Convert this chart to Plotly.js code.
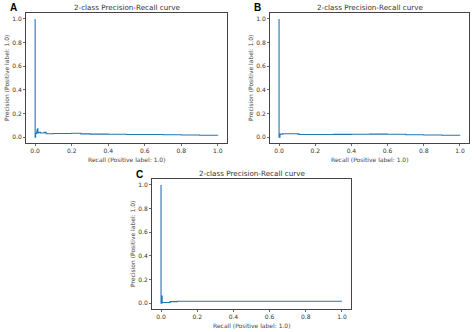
<!DOCTYPE html>
<html><head><meta charset="utf-8">
<script src="https://cdn.plot.ly/plotly-3.0.1.min.js"></script>
<style>html,body{margin:0;padding:0;background:#fff}#c{width:474px;height:332px}</style>
</head><body><div id="c"></div>
<script>
const recallA = [0, 0, 0.003, 0.008, 0.010, 0.013, 0.015, 0.02, 0.03, 0.05, 0.06, 0.10, 0.15, 0.20, 0.25, 0.30, 0.40, 0.50, 0.60, 0.70, 0.80, 0.90, 1.0];
const precisionA = [1.0, 0.0, 0.03, 0.04, 0.06, 0.07, 0.035, 0.04, 0.035, 0.04, 0.028, 0.030, 0.030, 0.032, 0.027, 0.025, 0.024, 0.022, 0.022, 0.020, 0.018, 0.016, 0.015];
const recallB = [0, 0, 0.005, 0.02, 0.05, 0.10, 0.11, 0.20, 0.30, 0.40, 0.50, 0.60, 0.70, 0.80, 0.90, 1.0];
const precisionB = [1.0, 0.0, 0.025, 0.028, 0.028, 0.027, 0.022, 0.022, 0.023, 0.024, 0.025, 0.024, 0.020, 0.018, 0.016, 0.015];
const recallC = [0, 0, 0.005, 0.006, 0.01, 0.05, 0.05, 0.09, 0.09, 1.0];
const precisionC = [1.0, 0.0, 0.06, 0.005, 0.005, 0.005, 0.012, 0.012, 0.016, 0.016];
const panelLabels = ["A", "B", "C"];
const titleText = "2-class Precision-Recall curve";
const xTitle = "Recall (Positive label: 1.0)";
const yTitle = "Precision (Positive label: 1.0)";
const tickVals = [0, 0.2, 0.4, 0.6, 0.8, 1.0];
const tickText = ["0.0", "0.2", "0.4", "0.6", "0.8", "1.0"];

const W = 474, H = 332;
const boxes = [
  {l: 26, r: 227, t: 13, b: 143},
  {l: 270, r: 469, t: 13, b: 143},
  {l: 152, r: 351, t: 179, b: 309}
];
const recalls = [recallA, recallB, recallC];
const precs = [precisionA, precisionB, precisionC];
const col = '#1f77b4';
const data = [];
const layout = {
  width: W, height: H, margin: {l: 0, r: 0, t: 0, b: 0},
  paper_bgcolor: '#fff', plot_bgcolor: '#fff', showlegend: false,
  font: {family: 'DejaVu Sans', color: '#333'},
  annotations: []
};
boxes.forEach((bx, i) => {
  const s = i === 0 ? '' : String(i + 1);
  data.push({x: recalls[i], y: precs[i], type: 'scatter', mode: 'lines',
    line: {color: col, width: 1.1, shape: 'hv'}, xaxis: 'x' + s, yaxis: 'y' + s});
  const ax = {
    domain: [bx.l / W, bx.r / W], anchor: 'y' + s, range: [-0.05, 1.05],
    showline: true, mirror: true, linecolor: '#444', linewidth: 1,
    ticks: 'outside', ticklen: 2, tickcolor: '#444', tickwidth: 0.8,
    tickvals: tickVals, ticktext: tickText, showgrid: false, zeroline: false,
    tickfont: {size: 6, color: '#333', family: 'DejaVu Sans'}, fixedrange: true
  };
  const ay = Object.assign({}, ax, {domain: [1 - bx.b / H, 1 - bx.t / H], anchor: 'x' + s});
  layout['xaxis' + s] = ax;
  layout['yaxis' + s] = ay;
  const cx = (bx.l + bx.r) / 2;
  layout.annotations.push(
    {text: titleText, x: cx / W, y: 1 - (bx.t - 6) / H, xref: 'paper', yref: 'paper',
     showarrow: false, font: {size: 7.2, color: '#333', family: 'DejaVu Sans'}, xanchor: 'center', yanchor: 'middle'},
    {text: xTitle, x: cx / W, y: 1 - (bx.b + 16) / H, xref: 'paper', yref: 'paper',
     showarrow: false, font: {size: 6, color: '#444', family: 'DejaVu Sans'}, xanchor: 'center', yanchor: 'middle'},
    {text: yTitle, x: (bx.l - 20) / W, y: 1 - ((bx.t + bx.b) / 2) / H, xref: 'paper', yref: 'paper', textangle: -90,
     showarrow: false, font: {size: 6, color: '#444', family: 'DejaVu Sans'}, xanchor: 'center', yanchor: 'middle'},
    {text: '<b>' + panelLabels[i] + '</b>', x: (bx.l - 13) / W, y: 1 - (bx.t - 5) / H, xref: 'paper', yref: 'paper',
     showarrow: false, font: {size: 10, color: '#000', family: 'Liberation Sans'}, xanchor: 'center', yanchor: 'middle'}
  );
});
Plotly.newPlot('c', data, layout, {displayModeBar: false, staticPlot: true});
</script></body></html>
